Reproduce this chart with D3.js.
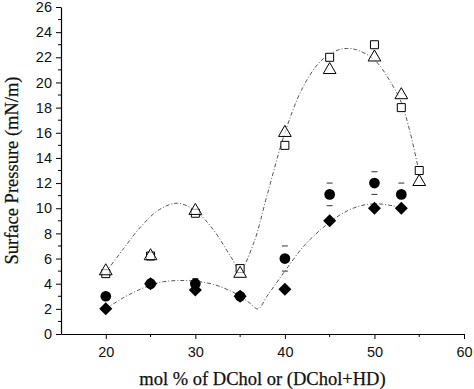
<!DOCTYPE html>
<html>
<head>
<meta charset="utf-8">
<script src="https://cdn.jsdelivr.net/npm/d3@7"></script>
<style>
  body { margin: 0; background: #fff; }
  .tick text { font-family: "Liberation Sans", Arial, sans-serif; font-size: 14.5px; fill: #111; }
  .title { font-family: "Liberation Serif", "Times New Roman", serif; font-size: 18.5px; fill: #111; stroke: #111; stroke-width: 0.25px; }
</style>
</head>
<body>
<div id="chart"></div>
<script>
// x positions (mol %)
var molPct = [20, 25, 30, 35, 40, 45, 50, 53, 55];

// open triangles / open squares (upper group)
var triVals = [5.0, 6.2, 9.8, 4.8, 16.0, 21.0, 22.0, 19.0, 12.1];
var sqVals  = [4.8, 6.2, 9.6, 5.2, 15.0, 22.0, 23.0, 18.0, 13.0];

// filled circles / filled diamonds (lower group), no x=55 point
var lowX     = [20, 25, 30, 35, 40, 45, 50, 53];
var circVals = [3.0, 4.0, 4.0, 3.0, 6.0, 11.1, 12.0, 11.1];
var diaVals  = [2.0, 4.0, 3.5, 3.0, 3.55, 9.0, 10.0, 10.0];
var circErr  = [0.3, 0.3, 0.4, 0.2, 1.0, 0.9, 0.9, 0.9];

// fitted guide curves
var fitUpX = [20, 22, 24, 26, 28, 30, 32, 34, 35, 36.5, 38, 40, 42, 44, 46, 47, 48, 50, 52, 53, 54, 55];
var fitUpY = [4.9, 6.8, 8.6, 9.9, 10.4, 9.8, 8.3, 6.1, 5.1, 7.2, 11.0, 16.0, 19.6, 21.7, 22.6, 22.7, 22.6, 21.8, 19.8, 18.4, 16.0, 12.8];
var fitLoX = [20, 22, 24, 26, 28, 30, 32, 34, 35, 36, 37, 38, 40, 42, 44, 46, 48, 50, 52, 53.5];
var fitLoY = [2.0, 2.9, 3.6, 4.1, 4.25, 4.2, 3.95, 3.4, 3.0, 2.5, 2.0, 3.0, 5.0, 6.9, 8.3, 9.4, 10.1, 10.35, 10.2, 9.9];

var xTicks = [20, 30, 40, 50, 60];
var xMinor = [25, 35, 45, 55];
var yTicks = d3.range(0, 27, 2);
var yMinor = d3.range(1, 26, 2);

var W = 474, H = 389;
var margin = {top: 7, right: 10, bottom: 55, left: 61};

var svg = d3.select("#chart").append("svg")
    .attr("width", W)
    .attr("height", H);

var xScale = d3.scaleLinear().domain([15, 60]).range([margin.left, 464]);
var yScale = d3.scaleLinear().domain([0, 26]).range([334, margin.top]);

// axes
var xAxis = d3.axisBottom(xScale).tickValues(xTicks).tickSize(5).tickSizeOuter(0).tickFormat(d3.format("d"));
var yAxis = d3.axisLeft(yScale).tickValues(yTicks).tickSize(5).tickSizeOuter(0).tickFormat(d3.format("d"));

var gx = svg.append("g").attr("transform", "translate(0," + yScale(0) + ")").call(xAxis);
gx.selectAll(".tick text").attr("dy", "1.0em");
gx.append("g").selectAll("line").data(xMinor).enter().append("line")
    .attr("x1", function(d) { return xScale(d); })
    .attr("x2", function(d) { return xScale(d); })
    .attr("y1", 0).attr("y2", 3).attr("stroke", "#000");

var gy = svg.append("g").attr("transform", "translate(" + xScale(15) + ",0)").call(yAxis);
gy.selectAll(".tick text").attr("x", -9);
gy.append("g").selectAll("line").data(yMinor).enter().append("line")
    .attr("y1", function(d) { return yScale(d); })
    .attr("y2", function(d) { return yScale(d); })
    .attr("x1", 0).attr("x2", -3).attr("stroke", "#000");

svg.selectAll(".domain").attr("stroke", "#000").attr("stroke-width", 1.2);

// titles
svg.append("text").attr("class", "title")
    .attr("x", (xScale(15) + xScale(60)) / 2).attr("y", 385)
    .attr("text-anchor", "middle")
    .text("mol % of DChol or (DChol+HD)");
svg.append("text").attr("class", "title")
    .attr("transform", "translate(18," + ((yScale(0) + yScale(26)) / 2) + ") rotate(-90)")
    .attr("text-anchor", "middle")
    .text("Surface Pressure (mN/m)");

// fit curves
var line = d3.line()
    .x(function(d) { return xScale(d[0]); })
    .y(function(d) { return yScale(d[1]); })
    .curve(d3.curveCatmullRom.alpha(0.5));

[[fitUpX, fitUpY], [fitLoX, fitLoY]].forEach(function(f) {
    svg.append("path")
        .datum(d3.zip(f[0], f[1]))
        .attr("d", line)
        .attr("fill", "none")
        .attr("stroke", "#444")
        .attr("stroke-width", 0.9)
        .attr("stroke-dasharray", "4,2,1,2");
});

// error caps for circles
var caps = svg.append("g").attr("stroke", "#333").attr("stroke-width", 1);
lowX.forEach(function(x, i) {
    [circVals[i] + circErr[i], circVals[i] - circErr[i]].forEach(function(v) {
        caps.append("line")
            .attr("x1", xScale(x) - 3).attr("x2", xScale(x) + 3)
            .attr("y1", yScale(v)).attr("y2", yScale(v));
    });
});

// markers
var sym = function(type, size) { return d3.symbol().type(type).size(size)(); };

svg.append("g").selectAll("path")
    .data(d3.zip(molPct, sqVals)).enter().append("path")
    .attr("transform", function(d) { return "translate(" + xScale(d[0]) + "," + yScale(d[1]) + ")"; })
    .attr("d", sym(d3.symbolSquare, 64))
    .attr("fill", "#fff").attr("stroke", "#000").attr("stroke-width", 1);

svg.append("g").selectAll("path")
    .data(d3.zip(molPct, triVals)).enter().append("path")
    .attr("transform", function(d) { return "translate(" + xScale(d[0]) + "," + yScale(d[1]) + ")"; })
    .attr("d", sym(d3.symbolTriangle, 70))
    .attr("fill", "#fff").attr("fill-opacity", 0.6).attr("stroke", "#000").attr("stroke-width", 1);

svg.append("g").selectAll("path")
    .data(d3.zip(lowX, circVals)).enter().append("path")
    .attr("transform", function(d) { return "translate(" + xScale(d[0]) + "," + yScale(d[1]) + ")"; })
    .attr("d", sym(d3.symbolCircle, 90))
    .attr("fill", "#000");

svg.append("g").selectAll("path")
    .data(d3.zip(lowX, diaVals)).enter().append("path")
    .attr("transform", function(d) { return "translate(" + xScale(d[0]) + "," + yScale(d[1]) + ") rotate(45)"; })
    .attr("d", sym(d3.symbolSquare, 85))
    .attr("fill", "#000");
</script>
</body>
</html>
